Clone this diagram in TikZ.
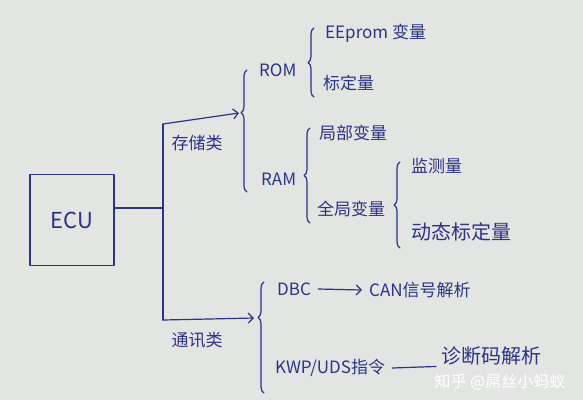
\documentclass[tikz,border=0pt]{standalone}
\usepackage{fontspec}
\setmainfont{Noto Sans CJK SC}
\usetikzlibrary{decorations.pathreplacing,arrows.meta}
\definecolor{ink}{HTML}{2C3388}
\definecolor{paper}{HTML}{E3E5E3}
\tikzset{
  hand/.style={ink,line width=1.2pt,line cap=round,line join=round},
  txt/.style={ink,font=\fontsize{17}{17}\selectfont,inner sep=1pt,anchor=west},
  bigtxt/.style={txt,font=\fontsize{20}{20}\selectfont},
  brace/.style={hand,decorate,decoration={brace,amplitude=6pt,aspect=#1}},
  brace/.default=0.5,
  tip/.style={-{Straight Barb[length=5pt,width=10pt]}},
}

\begin{document}
\begin{tikzpicture}[x=1pt,y=-1pt]
    \fill[paper] (0,0) rectangle (583,400);
    \node[hand,draw,minimum width=84pt,minimum height=91pt,
      font=\fontsize{22}{22}\selectfont] (ecu) at (72,220) {ECU};
    % trunk
    \coordinate (fork) at (163,208);
    \coordinate (top) at (163,124);
    \coordinate (bot) at (163,320);
    \draw[hand] ([yshift=12pt]ecu.east) -- (fork);
    \draw[hand] (top) -- (bot);
    % storage
    \coordinate (sb1) at (247,192);
    \coordinate (sb2) at (247,70);
    \coordinate (sbtip) at (239,113);
    \draw[brace=0.65] (sb1) -- (sb2);
    \draw[hand,tip] (top) -- (sbtip);
    \node[txt,anchor=center] (store) at (197,143) {存储类};
    \node[txt] (rom) at (258,70) {ROM};
    \node[txt] (ram) at (260,179) {RAM};
    \coordinate (rb1) at (314,97);
    \coordinate (rb2) at (314,28);
    \draw[brace] (rb1) -- (rb2);
    \node[txt] (eep) at (324,33) {EEprom 变量};
    \node[txt] (cal) at (322,83) {标定量};
    \coordinate (mb1) at (310,223);
    \coordinate (mb2) at (310,128);
    \draw[brace] (mb1) -- (mb2);
    \node[txt] (loc) at (318,133) {局部变量};
    \node[txt] (glob) at (316,209) {全局变量};
    \coordinate (gb1) at (400,248);
    \coordinate (gb2) at (400,162);
    \draw[brace] (gb1) -- (gb2);
    \node[txt] (mon) at (410,166) {监测量};
    \node[bigtxt] (dyn) at (410,232) {动态标定量};
    % comms
    \coordinate (cb1) at (264,393);
    \coordinate (cb2) at (264,282);
    \coordinate (cbtip) at (254,318);
    \draw[brace=0.68] (cb1) -- (cb2);
    \draw[hand,tip] (bot) -- (cbtip);
    \node[txt,anchor=center] (comm) at (197,340) {通讯类};
    \node[txt] (dbc) at (276,289) {DBC};
    \node[txt] (can) at (368,290) {CAN信号解析};
    \draw[hand,tip] ([xshift=6pt]dbc.east) -- ([xshift=-6pt]can.west);
    \node[txt] (kwp) at (274,368) {KWP/UDS指令};
    \node[bigtxt] (diag) at (440,356) {诊断码解析};
    \draw[hand] ([xshift=6pt]kwp.east) -- ([xshift=-4pt]diag.south west);
    \node[white,font=\fontsize{16}{16}\selectfont,inner sep=1pt] (mark) at (500,382) {知乎 @屌丝小蚂蚁};
\end{tikzpicture}
\end{document}
